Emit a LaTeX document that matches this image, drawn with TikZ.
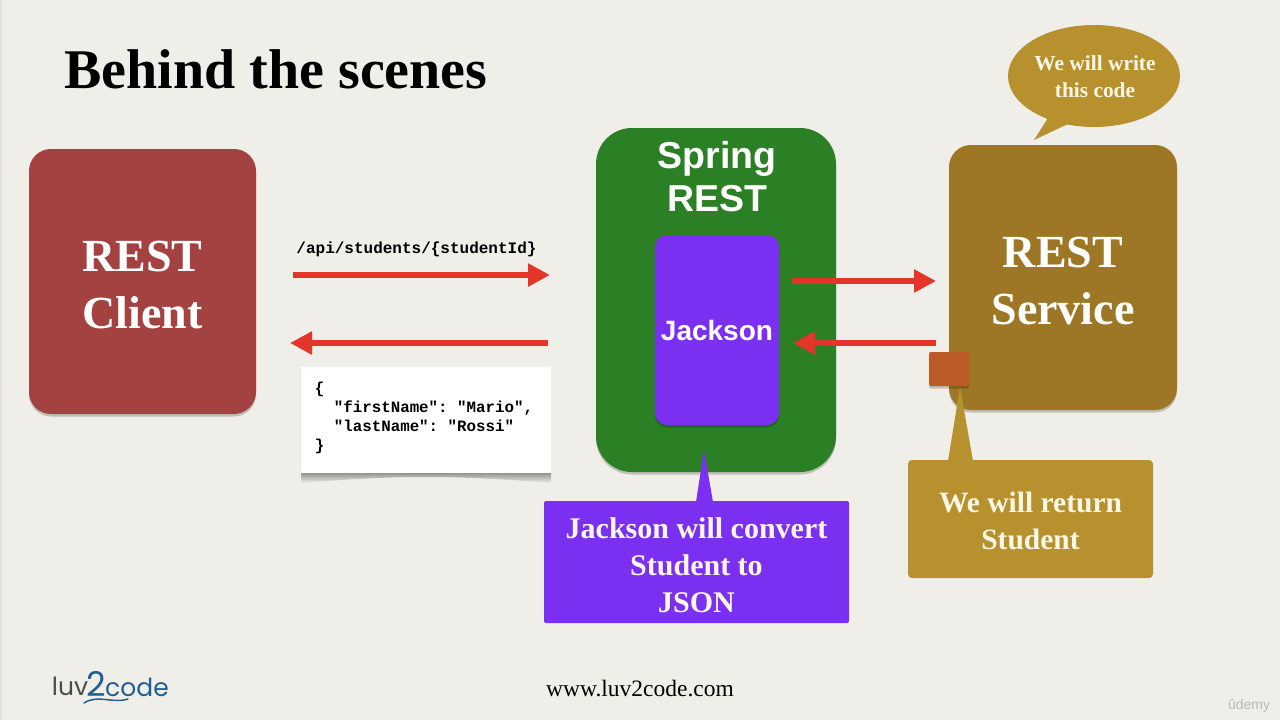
\documentclass[tikz,border=0pt]{standalone}
\usepackage{fontspec}
\setmainfont{Liberation Serif}
\setsansfont{Liberation Sans}
\setmonofont{Liberation Mono}
\newfontfamily\logofont{Poppins}
\usetikzlibrary{arrows.meta,shadows,shapes.geometric}
\newcommand{\fsz}[2]{\fontsize{#1}{#2}\selectfont}
\definecolor{paper}{HTML}{F0EEE8}
\definecolor{clientred}{HTML}{A34240}
\definecolor{springgreen}{HTML}{2B7F24}
\definecolor{jackpurple}{HTML}{7B2FF0}
\definecolor{servicebrown}{HTML}{9D7725}
\definecolor{calloutgold}{HTML}{B8912F}
\definecolor{squarerust}{HTML}{BC5A28}
\definecolor{arrowred}{HTML}{E4352A}
\definecolor{logoblue}{HTML}{1F5F93}
\definecolor{cream}{HTML}{FBF7E6}
\tikzset{
  pxbox/.style={rectangle,inner sep=0pt,outer sep=0pt,text=white},
  softshadow/.style={drop shadow={shadow xshift=0pt,shadow yshift=-2.5pt,opacity=.2,fill=black}},
  flow/.style={draw=arrowred,line width=6pt,-{Triangle[length=22pt,width=22pt,fill=arrowred]}},
  bigtitle/.style={font=\fsz{46}{57}\bfseries,align=center,text=white},
  calloutlabel/.style={font=\fsz{29.5}{37}\bfseries,align=center,text=cream},
  jsontext/.style={font=\ttfamily\bfseries\fsz{15.8}{19}},
}
\begin{document}
\begin{tikzpicture}[x=1pt,y=-1pt]
\useasboundingbox (0,0) rectangle (1280,720);
\fill[paper] (0,0) rectangle (1280,720);
\fill[black,opacity=.06] (0,0) rectangle (2,720);

\node (title) at (276,69) {\fsz{56}{60}\bfseries Behind the scenes};

% main boxes
\node[pxbox,softshadow,fill=clientred,rounded corners=22pt,minimum width=227pt,minimum height=265pt] (client) at (142.5,281.5) {};
\node[bigtitle] (clientlabel) at (142.5,284.5) {REST\\Client};
\node[pxbox,softshadow,fill=springgreen,rounded corners=36pt,minimum width=240pt,minimum height=344pt] (spring) at (716,300) {};
\node[font=\sffamily\bfseries\fsz{37.5}{43},text=white,align=center] (springlabel) at (717,177) {Spring\\REST};
\node[pxbox,softshadow,fill=jackpurple,rounded corners=12pt,minimum width=124pt,minimum height=190pt,font=\sffamily\bfseries\fsz{28}{32}] (jackson) at (717,330) {Jackson};
\node[pxbox,softshadow,fill=servicebrown,rounded corners=22pt,minimum width=228pt,minimum height=265pt] (service) at (1063,277.5) {};
\node[bigtitle] (servicelabel) at (1063,280.5) {REST\\Service};

% small square
\node[pxbox,softshadow,fill=squarerust,rounded corners=2pt,minimum width=40pt,minimum height=34pt] (student) at (949,369) {};

% return callout
\fill[calloutgold] (948,461) -- (960,387) -- (973,461) -- cycle;
\node[pxbox,fill=calloutgold,rounded corners=4pt,minimum width=245pt,minimum height=118pt] (returnbox) at (1030.5,519) {};
\node[calloutlabel] (returnlabel) at (1030.5,521) {We will return\\Student};

% jackson callout
\fill[jackpurple] (696,502) -- (704,450) -- (713,502) -- cycle;
\node[pxbox,fill=jackpurple,rounded corners=2pt,minimum width=305pt,minimum height=122pt] (convertbox) at (696.5,562) {};
\node[font=\fsz{30}{37}\bfseries,align=center,text=cream] (convertlabel) at (696.5,565) {Jackson will convert\\Student to\\JSON};

% speech bubble
\fill[calloutgold] (1048,118) -- (1034,140) -- (1068,124) -- cycle;
\node[ellipse,inner sep=0pt,fill=calloutgold,minimum width=172pt,minimum height=102pt] (bubble) at (1094,76) {};
\node[font=\fsz{21.4}{27}\bfseries,text=cream,align=center] (bubbletext) at (1095,77) {We will write\\this code};

% request and response arrows
\coordinate (reqA) at (293,275);
\coordinate (reqB) at (550,275);
\coordinate (resA) at (548,343);
\coordinate (resB) at (290,343);
\coordinate (inA) at (792,281);
\coordinate (inB) at (936,281);
\coordinate (outA) at (936,343);
\coordinate (outB) at (793,343);
\draw[flow] (reqA) -- (reqB);
\draw[flow] (resA) -- (resB);
\draw[flow] (inA) -- (inB);
\draw[flow] (outA) -- (outB);

\node[font=\ttfamily\bfseries\fsz{16}{19}] (url) at (416.5,249) {/api/students/\{studentId\}};

% JSON card
\shade[top color=black!42,bottom color=paper] (301,473) -- (551,473) -- (551,483) .. controls (450,475) and (400,475) .. (301,483) -- cycle;
\node[pxbox,fill=white,minimum width=250pt,minimum height=106pt] (json) at (426,420) {};
\node[text=black,jsontext,align=left] (jsonlabel) at (424,418) {\{\\\ \ "firstName": "Mario",\\\ \ "lastName": "Rossi"\\\}};

% footer
\node[font=\fsz{23.5}{28}] (site) at (640,689) {www.luv2code.com};
\node[font=\logofont\fsz{25}{30},text=black!70,inner sep=0pt] (logoa) at (70,686) {luv};
\node[font=\logofont\fsz{34}{36},text=logoblue,inner sep=0pt] (logob) at (96,684) {2};
\node[font=\logofont\fsz{25}{30},text=logoblue,inner sep=0pt] (logoc) at (137,687) {code};
\draw[logoblue,line width=1.5pt,line cap=round] (84,703) .. controls (98,694) and (112,704) .. (128,699);
\node[font=\sffamily\fsz{14}{16},text=black!28,inner sep=0pt] (udemy) at (1249,706) {ûdemy};
\end{tikzpicture}
\end{document}
